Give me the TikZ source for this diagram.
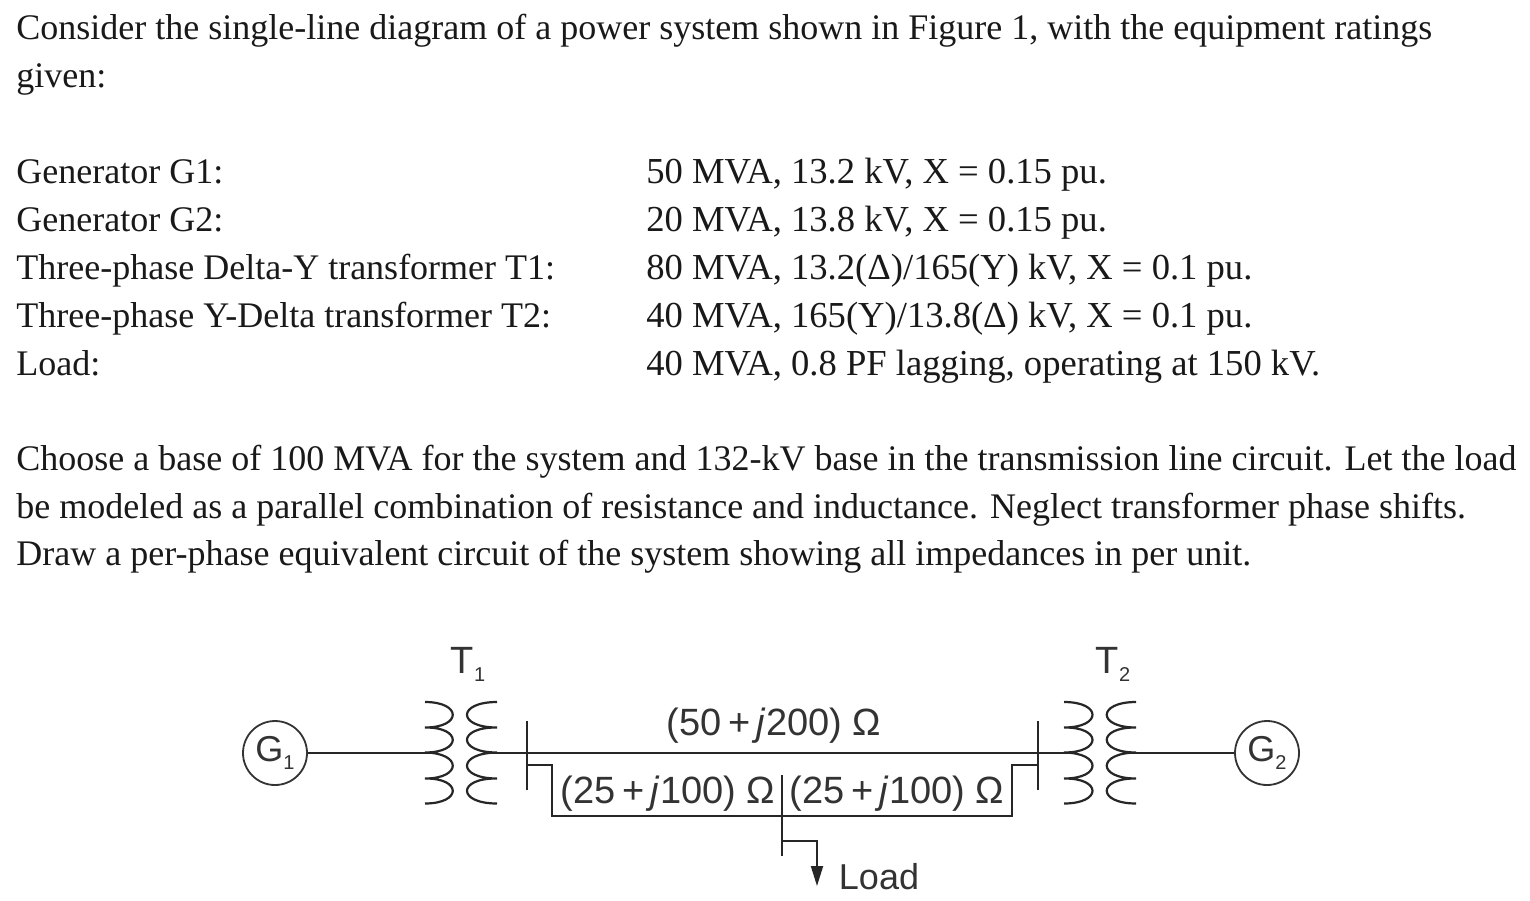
\documentclass[tikz,border=0pt]{standalone}
\usepackage{fontspec}
\setmainfont{Liberation Serif}
\newfontfamily\figfont{Liberation Sans}
\usetikzlibrary{arrows.meta}
\newcommand{\coilL}[2]{% x of cusps, bulge to the right
  \draw[wire,line width=1.1pt] (#1,702) \foreach \yy in {702,727,753,778}{ .. controls ({#1+#2},\yy) and ({#1+#2},{\yy+25.5}) .. (#1,{\yy+25.5}) };}
\tikzset{
  wire/.style={draw=black!85,line width=0.95pt},
  txt/.style={anchor=base west,inner sep=0pt,font=\fontsize{18}{20}\selectfont,text=black!90},
  txtb/.style={txt,font=\fontsize{18.3}{20}\selectfont},
  figtxt/.style={inner sep=0pt,font=\figfont\fontsize{19}{20}\selectfont,text=black!80},
  gen/.style={circle,draw=black!80,line width=0.9pt,minimum size=32pt,inner sep=0pt,font=\figfont\fontsize{18}{20}\selectfont,text=black!80},
}
\begin{document}
\begin{tikzpicture}[x=0.5pt,y=-0.5pt]
\useasboundingbox (0,0) rectangle (1530,900);
\fill[white] (0,0) rectangle (1530,900);
\node[txt] (l1) at (16,39) {Consider the single-line diagram of a power system shown in Figure 1, with the equipment ratings};
\node[txt] (l2) at (16,87) {given:};
\node[txt] (a1) at (16,183) {Generator G1:};
\node[txt] (a2) at (16,231) {Generator G2:};
\node[txt] (a3) at (16,279) {Three-phase Delta-Y transformer T1:};
\node[txt] (a4) at (16,327) {Three-phase Y-Delta transformer T2:};
\node[txt] (a5) at (16,375) {Load:};
\node[txtb] (b1) at (646,183) {50 MVA, 13.2 kV, X = 0.15 pu.};
\node[txtb] (b2) at (646,231) {20 MVA, 13.8 kV, X = 0.15 pu.};
\node[txtb] (b3) at (646,279) {80 MVA, 13.2(Δ)/165(Y) kV, X = 0.1 pu.};
\node[txtb] (b4) at (646,327) {40 MVA, 165(Y)/13.8(Δ) kV, X = 0.1 pu.};
\node[txtb] (b5) at (646,375) {40 MVA, 0.8 PF lagging, operating at 150 kV.};
\node[txt] (c1) at (16,470) {Choose a base of 100 MVA for the system and 132-kV base in the transmission line circuit. Let the load};
\node[txt] (c2) at (16,518) {be modeled as a parallel combination of resistance and inductance. Neglect transformer phase shifts.};
\node[txt] (c3) at (16,565) {Draw a per-phase equivalent circuit of the system showing all impedances in per unit.};
% figure
\node[gen] (g1) at (275,753) {\raisebox{-0.2ex}{G}\raisebox{-0.6ex}{\fontsize{10}{10}\selectfont 1}};
\node[gen] (g2) at (1267,753) {\raisebox{-0.2ex}{G}\raisebox{-0.6ex}{\fontsize{10}{10}\selectfont 2}};
\node[figtxt] (t1) at (468,664) {T\raisebox{-0.4ex}{\fontsize{10}{10}\selectfont 1}};
\node[figtxt] (t2) at (1113,664) {T\raisebox{-0.4ex}{\fontsize{10}{10}\selectfont 2}};
\coordinate (t1a) at (433,753);
\coordinate (t1b) at (490,753);
\coordinate (t2a) at (1072,753);
\coordinate (t2b) at (1128,753);
\coilL{425}{37}
\coilL{497}{-40}
\coilL{1064}{38}
\coilL{1136}{-39}
\coordinate (bus1t) at (527,721);
\coordinate (bus1b) at (527,790);
\coordinate (bus2t) at (1038,721);
\coordinate (bus2b) at (1038,790);
\coordinate (bus1k) at (527,765);
\coordinate (bus2k) at (1038,765);
\coordinate (mt) at (782,775);
\coordinate (mb) at (782,856);
\coordinate (lk) at (782,841);
\coordinate (lc) at (817,841);
\coordinate (la) at (817,886);
\draw[wire] (g1) -- (t1a);
\draw[wire] (t1b) -- (t2a);
\draw[wire] (t2b) -- (g2);
\draw[wire] (bus1t) -- (bus1b);
\draw[wire] (bus2t) -- (bus2b);
\draw[wire] (bus1k) -- (552,765) -- (552,816) -- (1012,816) -- (1012,765) -- (bus2k);
\draw[wire] (mt) -- (mb);
\draw[wire,-{Triangle[length=10pt,width=6pt]}] (lk) -- (lc) -- (la);
\node[figtxt] (z0) at (774,726) {(50\,+\,\textit{j}200) Ω};
\node[figtxt] (z1) at (668,794) {(25\,+\,\textit{j}100) Ω};
\node[figtxt] (z2) at (897,794) {(25\,+\,\textit{j}100) Ω};
\node[figtxt,font=\figfont\fontsize{18}{20}\selectfont] (load) at (879,877) {Load};
\end{tikzpicture}
\end{document}
